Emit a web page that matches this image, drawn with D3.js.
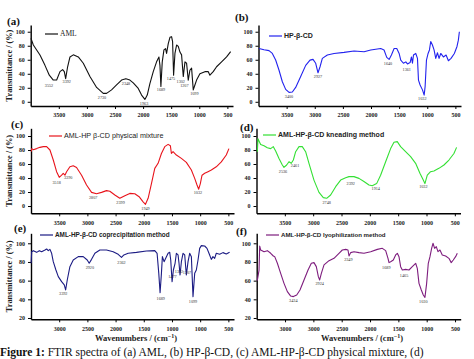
<!DOCTYPE html>
<html><head><meta charset="utf-8">
<script src="https://cdn.jsdelivr.net/npm/d3@7"></script>
<style>body{margin:0;background:#fff}svg{display:block}</style>
</head><body>
<script>
// ---------- data ----------
const xTickValues = [3500, 3000, 2500, 2000, 1500, 1000, 500];
const xTickLabels = ["3500", "3000", "2500", "2000", "1500", "1000", "500"];
const xTickLabelsE = ["3000", "2500", "2000", "1500", "1000", "1000", "500"];
const xTickLabelsF = ["3000", "3000", "2500", "2000", "1500", "1000", "500"];
const yTicksUpper = [0, 20, 40, 60, 80, 100];
const yTicksLower = [20, 40, 60, 80, 100];

const aWn = [3995,3953,3835,3746,3669,3598,3538,3479,3432,3402,3378,3343,3301,3242,3153,3064,2946,2827,2709,2650,2561,2472,2383,2306,2235,2175,2086,2027,1968,1926,1879,1819,1760,1718,1700,1683,1659,1629,1600,1582,1552,1522,1493,1475,1457,1433,1404,1374,1344,1315,1285,1255,1226,1196,1167,1137,1107,1078,1048,989,900,840,811,752,692,603,514,442];
const aT  = [90.5,81,66.7,52,38,31,31,43,46,43,33,50,64,67,64,55,36,20.5,12,12,17,24,31,33,31,27,19,9.6,3.4,9.6,26,43,57,64,52,22,57,74,76,69,83,92,93,86,38,69,81,79,71,67,36,57,55,31,45,48,17,24,31,40,43,43,38,43,50,57,64,71.5];
const aPeakText = ["3552","3392","2730","2348","1963","1689","1475","1302","1207","1099"];
const aPeakWn = [3674,3359,2731,2304,1983,1681,1503,1330,1266,1088];
const aPeakT  = [22.4,28.6,5.7,24.9,-3.3,16.7,32.4,28.6,22.9,10.6];

const bWn = [3991,3902,3813,3754,3695,3635,3576,3517,3457,3398,3339,3250,3161,3084,3031,2983,2942,2906,2865,2776,2657,2479,2301,2123,2005,1827,1768,1720,1678,1637,1589,1542,1500,1471,1423,1381,1352,1305,1281,1263,1245,1204,1174,1156,1127,1085,1055,1038,1014,985,961,938,908,879,849,819,790,760,713,665,624,577,518,471,447,429];
const bT  = [76,74.3,73,69,59.6,45,28.6,17.7,13.4,14,20.5,36,52,59.5,60.5,55,41.4,50,62,66.7,69,70.5,72.5,71.5,74,76,74,63.4,60.5,66.7,76,76,69,59.6,55,57,54,56,64,55,66.7,69,62,31,24,17,9.6,21.6,59.6,69,74,86,81,74,62,70,62,69,64,66.7,58.6,62,69,79,88,100];
const bPeakText = ["3400","2927","1640","1361","1032"];
const bPeakWn = [3458,2942,1698,1365,1088];
const bPeakT  = [7.1,34.9,53.9,45.3,3.4];

const cWn = [3995,3988,3959,3900,3841,3782,3723,3664,3605,3546,3499,3457,3428,3398,3369,3310,3251,3192,3103,3015,2926,2838,2749,2661,2602,2513,2425,2336,2248,2159,2083,2012,1970,1923,1864,1805,1746,1687,1628,1569,1528,1510,1481,1422,1333,1245,1156,1097,1056,1026,997,967,920,861,802,714,625,537,490];
const cT  = [77.6,82,80.5,82,83.8,84.8,84.8,80,65.7,49,41,44,46.7,44,49,56,57.6,55,44,30,19.5,17.6,19.5,22,21,15.7,11,14.8,18,17.6,13.3,6,2.4,11,32,53.8,61,75,84.8,88,86,75,77.6,72.8,68,62.4,51.4,39.5,30,24,32,44,46.7,49,51.4,56,63,72.8,82];
const cPeakText = ["3518","3390","2807","2399","1949","1032"];
const cPeakWn = [3545,3340,2897,2412,1970,1039];
const cPeakT  = [32.4,40.4,11,3.9,-4.3,18.1];

const dWn = [3985,3974,3927,3868,3809,3750,3703,3662,3603,3544,3515,3468,3427,3386,3350,3309,3250,3192,3133,3074,2986,2897,2821,2762,2692,2603,2515,2427,2368,2280,2192,2104,2015,1957,1880,1810,1721,1633,1574,1516,1457,1369,1280,1192,1116,1057,1028,986,928,869,781,692,604,516,469];
const dT  = [77.6,96,88,86,83.3,82,84.8,78.6,68,58.6,55.2,58.6,63.3,61,65.7,77.6,84.8,84.8,77.6,61,37,19.5,12,11,15.7,27.6,37,40.5,42,42,39.5,35,30,29,32,44,63.3,82,91,92,84.8,77.6,70.5,61,46.7,37,32,44,49,50,53.8,58.6,65.7,75,83.8];
const dPeakText = ["2536","2461","2748","2392","1914","1032"];
const dPeakWn = [3532,3320,2761,2337,1896,1056];
const dPeakT  = [49,57.1,3.9,31.4,24.3,27.6];

const eWn = [3998,3988,3959,3900,3852,3811,3752,3723,3693,3664,3634,3605,3558,3516,3457,3410,3386,3357,3310,3251,3162,3074,3003,2968,2926,2867,2779,2661,2543,2454,2395,2353,2277,2130,1953,1805,1764,1734,1711,1687,1670,1640,1611,1569,1540,1522,1498,1475,1445,1422,1392,1375,1357,1333,1304,1274,1245,1215,1186,1156,1127,1097,1068,1038,1009,979,920,879,844,802,773,743,714,655,596,537,478];
const eT  = [78.6,91,92.1,90.3,92.1,91,92.8,93.9,92.1,93.5,89.3,80.3,71.4,64.3,58.9,55.4,50,60.7,75,82.1,85.7,85.7,82.1,78.6,82.8,89.3,92.8,92.8,91,88.2,85,87.5,89.3,90.3,91.8,92.1,89.3,67.8,47.1,67.8,85.7,80.3,83.9,89.3,90.3,82.1,58.9,71.4,78.6,89.3,87.5,78.6,66.1,80.3,89.3,87.5,66.1,80.3,89.3,85.7,42.9,67.8,71.4,82.1,94.6,97.5,97.1,94.6,89.3,82.8,85.7,83.9,89.3,88.2,90,88.5,90.3];
const ePeakText = ["3392","2920","2362","1689","1477","1302","1207","1099"];
const ePeakWn = [3428,2956,2395,1699,1492,1375,1233,1127];
const ePeakT  = [45.7,73.9,79.2,40.4,63.6,69.6,67.9,37.5];

const fWn = [3990,3959,3947,3929,3871,3812,3753,3706,3682,3635,3577,3518,3459,3400,3353,3294,3236,3165,3094,3036,2989,2948,2912,2889,2859,2812,2724,2636,2548,2489,2430,2389,2371,2342,2283,2195,2107,1989,1871,1783,1724,1683,1665,1636,1589,1548,1518,1489,1460,1430,1372,1313,1254,1195,1166,1136,1095,1060,1031,1001,972,942,913,889,860,831,801,766,725,666,608,567,531,490,460];
const fT  = [60,71,97,92.8,91,92.1,89.3,86.4,85.7,78.6,67.8,57.1,48.2,43.5,42.9,44.6,50,60.7,71.4,78.6,79.3,75,64.3,60.7,67.8,76.8,81.4,83.9,89.3,92.8,93.5,92.8,86.4,90,91,90,89.3,91,93.5,94.6,92.1,83.9,79.3,80.3,82.1,87.5,89.3,85.7,75,71.4,72.1,71.4,75,78.6,73.2,57.1,50,44.6,42.1,57.1,78.6,85.7,94.6,100,94.6,96.4,91,92.8,87.5,86.4,83.9,79.3,82.1,85.7,89.3];
const fPeakText = ["3434","2924","2349","1689","1465","1030"];
const fPeakWn = [3354,2888,2383,1713,1400,1060];
const fPeakT  = [38.2,56.4,82.1,73.2,65,37.5];

const panelLetters = ["(a)","(b)","(c)","(d)","(e)","(f)"];
const legendNames = ["AML","HP-β-CD","AML-HP β-CD physical mixture","AML-HP-β-CD kneading method","AML-HP-β-CD coprecipitation method","AML-HP-β-CD lyophilization method"];
const seriesColors = ["#111111","#2222ee","#e8141c","#33e033","#1c1c84","#7e1d7e"];

// ---------- layout ----------
const W = 474, H = 359;
const svg = d3.select("body").append("svg").attr("width", W).attr("height", H)
  .style("font-family", "'Liberation Serif','DejaVu Serif',serif");

const panels = [
  {wn:aWn, t:aT, pt:aPeakText, pw:aPeakWn, pv:aPeakT, xr:[30.7,233], yr:[106,25], yd:[-6,109.6], yt:yTicksUpper, xl:xTickLabels,
   let:[7,25], leg:[45,34], legFont:"'Liberation Serif',serif", legSize:7.5, legW:400},
  {wn:bWn, t:bT, pt:bPeakText, pw:bPeakWn, pv:bPeakT, xr:[258.5,461], yr:[106,25], yd:[-6,109.6], yt:yTicksUpper, xl:xTickLabels,
   let:[235,21], leg:[269,36], legFont:"'Liberation Sans',Arial,sans-serif", legSize:7, legW:600},
  {wn:cWn, t:cT, pt:cPeakText, pw:cPeakWn, pv:cPeakT, xr:[31,234], yr:[213.3,128.3], yd:[-10.4,111], yt:yTicksUpper, xl:xTickLabels,
   let:[11,128], leg:[49,136], legFont:"'Liberation Sans',Arial,sans-serif", legSize:7.2, legW:400},
  {wn:dWn, t:dT, pt:dPeakText, pw:dPeakWn, pv:dPeakT, xr:[256.5,460.5], yr:[213.3,128.3], yd:[-10.4,111], yt:yTicksUpper, xl:xTickLabels,
   let:[240,131], leg:[263,135], legFont:"'Liberation Sans',Arial,sans-serif", legSize:7, legW:600},
  {wn:eWn, t:eT, pt:ePeakText, pw:ePeakWn, pv:ePeakT, xr:[31,234], yr:[319.3,233.3], yd:[18.6,110.7], yt:yTicksLower, xl:xTickLabelsE,
   let:[14,232], leg:[40,235], legFont:"'Liberation Sans',Arial,sans-serif", legSize:6.4, legW:600},
  {wn:fWn, t:fT, pt:fPeakText, pw:fPeakWn, pv:fPeakT, xr:[256.7,460.7], yr:[319.3,233.3], yd:[18.6,110.7], yt:yTicksLower, xl:xTickLabelsF,
   let:[236,235], leg:[266,235], legFont:"'Liberation Sans',Arial,sans-serif", legSize:6.1, legW:600}
];

panels.forEach((p, i) => {
  const x = d3.scaleLinear().domain([4000, 400]).range(p.xr);
  const y = d3.scaleLinear().domain(p.yd).range(p.yr);
  const g = svg.append("g");

  // axes
  const xa = g.append("g").attr("transform", `translate(0,${p.yr[0]})`)
    .call(d3.axisBottom(x).tickValues(xTickValues).tickSize(3).tickSizeOuter(0)
      .tickFormat((d, k) => p.xl[k]));
  const ya = g.append("g").attr("transform", `translate(${p.xr[0]},0)`)
    .call(d3.axisLeft(y).tickValues(p.yt).tickSize(3).tickSizeOuter(0));
  [xa, ya].forEach(a => {
    a.select(".domain").attr("stroke", "#000").attr("stroke-width", 1.4);
    a.selectAll(".tick line").attr("stroke", "#000").attr("stroke-width", 1);
    a.selectAll("text").attr("font-family", "'Liberation Serif',serif").attr("font-weight", "bold")
      .attr("font-size", 6).attr("fill", "#222");
  });
  xa.selectAll("text").attr("dy", "0.9em");

  // curve
  const pts = p.wn.map((w, k) => [w, p.t[k]]);
  g.append("path").datum(pts)
    .attr("fill", "none").attr("stroke", seriesColors[i]).attr("stroke-width", 1.1)
    .attr("stroke-linejoin", "round")
    .attr("d", d3.line().x(d => x(d[0])).y(d => y(d[1])));

  // peak labels
  g.selectAll("text.pk").data(p.pt).join("text").attr("class", "pk")
    .attr("x", (d, k) => x(p.pw[k])).attr("y", (d, k) => y(p.pv[k]))
    .attr("text-anchor", "middle").attr("dominant-baseline", "middle")
    .attr("font-size", 4.2).attr("fill", "#333").text(d => d);

  // legend
  g.append("line").attr("x1", p.leg[0]).attr("x2", p.leg[0] + 13)
    .attr("y1", p.leg[1]).attr("y2", p.leg[1])
    .attr("stroke", seriesColors[i]).attr("stroke-width", 1.2);
  g.append("text").attr("x", p.leg[0] + 15).attr("y", p.leg[1])
    .attr("dominant-baseline", "middle")
    .attr("font-family", p.legFont).attr("font-size", p.legSize).attr("font-weight", p.legW)
    .attr("fill", "#222").text(legendNames[i]);

  // panel letter
  g.append("text").attr("x", p.let[0]).attr("y", p.let[1])
    .attr("font-size", 11).attr("font-weight", "bold").attr("fill", "#111").text(panelLetters[i]);

  // y title on left panels
  if (i % 2 === 0) {
    const cy = (p.yr[0] + p.yr[1]) / 2;
    g.append("text").attr("transform", `translate(12,${cy}) rotate(-90)`)
      .attr("text-anchor", "middle").attr("font-size", 8.3).attr("font-weight", "bold")
      .attr("fill", "#222").text("Transmittance / (%)");
  }
});

// x titles
[136, 362].forEach(cx => {
  const t = svg.append("text").attr("x", cx).attr("y", 341).attr("text-anchor", "middle")
    .attr("font-size", 8.5).attr("font-weight", "bold").attr("fill", "#222");
  t.append("tspan").text("Wavenumbers / (cm");
  t.append("tspan").attr("dy", -3).attr("font-size", 6).text("−1");
  t.append("tspan").attr("dy", 3).text(")");
});

// caption
const cap = svg.append("text").attr("x", 0).attr("y", 356).attr("font-size", 11.5).attr("fill", "#111");
cap.append("tspan").attr("font-weight", "bold").text("Figure 1:");
cap.append("tspan").text(" FTIR spectra of (a) AML, (b) HP-β-CD, (c) AML-HP-β-CD physical mixture, (d)");
</script>
</body></html>
